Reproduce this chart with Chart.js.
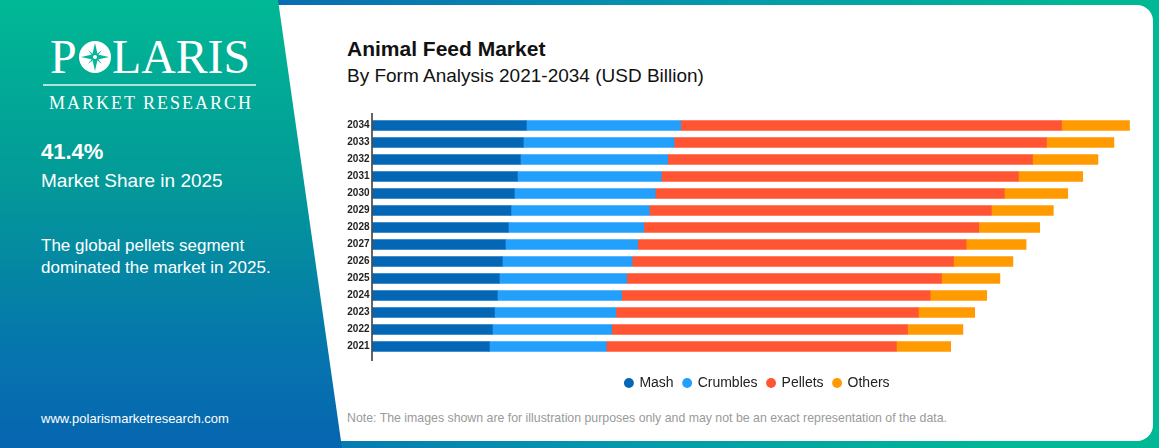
<!DOCTYPE html>
<html>
<head>
<meta charset="utf-8">
<script src="https://cdn.jsdelivr.net/npm/chart.js@4/dist/chart.umd.min.js"></script>
<style>
  html, body { margin: 0; padding: 0; }
  body { width: 1159px; height: 448px; position: relative; overflow: hidden;
         background: linear-gradient(100deg, #0a6cb2 22%, #0596ad 55%, #00b894 88%);
         font-family: "Liberation Sans", Arial, sans-serif; }
  #card { position: absolute; left: 260px; top: 5px; width: 893px; height: 436px;
          background: #fff; border-radius: 0 16px 16px 0; }
  #panel { position: absolute; left: 0; top: 0; width: 345px; height: 448px;
           background: linear-gradient(180deg, #00b894 0%, #039a98 40%, #0674ae 80%, #0665b0 100%);
           clip-path: polygon(0 0, 278px 0, 342px 448px, 0 448px); }
  svg.txt { position: absolute; left: 0; top: 0; }
  #wrap { position: absolute; left: 320px; top: 100px; width: 830px; height: 300px; }
</style>
</head>
<body>
<div id="card"></div>
<div id="panel"></div>
<svg class="txt" width="1159" height="448" xmlns="http://www.w3.org/2000/svg">
  <!-- logo -->
  <text x="50" y="73" font-family="Liberation Serif, Times New Roman, serif" font-size="48" fill="#fff">P</text>
  <circle cx="95" cy="57" r="16" fill="#fff"/>
  <g transform="translate(95,57)" fill="#05b59a">
    <polygon points="0,-14 2.6,-2.6 14,0 2.6,2.6 0,14 -2.6,2.6 -14,0 -2.6,-2.6"/>
    <polygon points="7,-7 1.6,0 7,7 0,1.6 -7,7 -1.6,0 -7,-7 0,-1.6"/>
    <circle r="2" fill="#fff"/>
  </g>
  <text x="112" y="73" font-family="Liberation Serif, Times New Roman, serif" font-size="48" fill="#fff" textLength="138" lengthAdjust="spacingAndGlyphs">LARIS</text>
  <line x1="43" y1="85" x2="256" y2="85" stroke="#fff" stroke-width="1.5" opacity="0.9"/>
  <text x="49" y="109" font-family="Liberation Serif, Times New Roman, serif" font-size="18" fill="#fff" textLength="202" lengthAdjust="spacing">MARKET RESEARCH</text>

  <text x="41" y="159" font-size="22" font-weight="bold" fill="#fff" font-family="Liberation Sans, Arial, sans-serif">41.4%</text>
  <text x="41" y="187" font-size="19" fill="#fff" font-family="Liberation Sans, Arial, sans-serif">Market Share in 2025</text>
  <text x="41" y="251" font-size="17" fill="#fff" font-family="Liberation Sans, Arial, sans-serif">The global pellets segment</text>
  <text x="41" y="273" font-size="17" fill="#fff" font-family="Liberation Sans, Arial, sans-serif">dominated the market in 2025.</text>
  <text x="41" y="423" font-size="13" fill="#fff" font-family="Liberation Sans, Arial, sans-serif">www.polarismarketresearch.com</text>

  <text x="347" y="56" font-size="21" font-weight="bold" fill="#111" font-family="Liberation Sans, Arial, sans-serif">Animal Feed Market</text>
  <text x="347" y="82" font-size="19" fill="#111" font-family="Liberation Sans, Arial, sans-serif">By Form Analysis 2021-2034 (USD Billion)</text>

  <text x="347" y="422" font-size="13" fill="#9a9a9a" font-family="Liberation Sans, Arial, sans-serif" textLength="600" lengthAdjust="spacingAndGlyphs">Note: The images shown are for illustration purposes only and may not be an exact representation of the data.</text>
</svg>
<div id="wrap"><canvas id="c" width="830" height="300"></canvas></div>
<script>
const years = ['2021','2022','2023','2024','2025','2026','2027','2028','2029','2030','2031','2032','2033','2034'];
const mash = [58.4, 59.9, 61.0, 62.4, 63.4, 64.9, 66.4, 67.9, 69.2, 70.9, 72.4, 73.9, 75.4, 76.9];
const crumbles = [58.5, 59.7, 60.7, 62.2, 63.7, 64.9, 66.2, 67.7, 69.2, 70.5, 72.0, 73.7, 75.4, 77.2];
const pellets = [145.0, 147.9, 151.2, 154.2, 157.4, 160.7, 164.2, 167.5, 171.0, 174.5, 178.5, 182.4, 186.2, 190.4];
const others = [27.2, 27.7, 28.2, 28.3, 29.2, 29.7, 30.0, 30.5, 31.0, 31.7, 32.2, 32.7, 33.7, 34.0];

const FONT = '"Liberation Sans", Arial, sans-serif';

const axisLine = {
  id: 'axisLine',
  afterDatasetsDraw(chart) {
    const { ctx, chartArea: a } = chart;
    const x = chart.scales.x.getPixelForValue(0) - 0.5;
    ctx.save();
    ctx.strokeStyle = '#111';
    ctx.lineWidth = 1.3;
    ctx.beginPath();
    ctx.moveTo(x, a.top - 4);
    ctx.lineTo(x, a.bottom + 6);
    ctx.stroke();
    ctx.restore();
  }
};

new Chart(document.getElementById('c'), {
  type: 'bar',
  data: {
    labels: years,
    datasets: [
      { label: 'Mash', data: mash, backgroundColor: '#0467b6' },
      { label: 'Crumbles', data: crumbles, backgroundColor: '#239ffc' },
      { label: 'Pellets', data: pellets, backgroundColor: '#ff5533' },
      { label: 'Others', data: others, backgroundColor: '#ff9a00' }
    ]
  },
  options: {
    indexAxis: 'y',
    responsive: false,
    animation: false,
    datasets: { bar: { barThickness: 10 } },
    layout: { padding: { left: 10, right: 7.5, top: 17, bottom: 0 } },
    scales: {
      x: {
        stacked: true, min: 0, max: 385,
        grid: { display: false, drawTicks: true, tickLength: 11 },
        border: { display: false },
        ticks: { display: false }
      },
      y: {
        stacked: true, reverse: true,
        grid: { display: false, drawTicks: false },
        border: { display: false },
        ticks: { padding: 3, color: '#222', font: { size: 10, weight: 'bold', family: FONT } },
        afterFit: (s) => { s.width = 42.5; }
      }
    },
    plugins: {
      legend: {
        position: 'bottom',
        fullSize: false,
        labels: { usePointStyle: true, pointStyle: 'circle', boxWidth: 7, boxHeight: 7, padding: 10,
                  color: '#222', font: { size: 14, family: FONT } }
      },
      tooltip: { enabled: false }
    }
  },
  plugins: [axisLine]
});
</script>
</body>
</html>
